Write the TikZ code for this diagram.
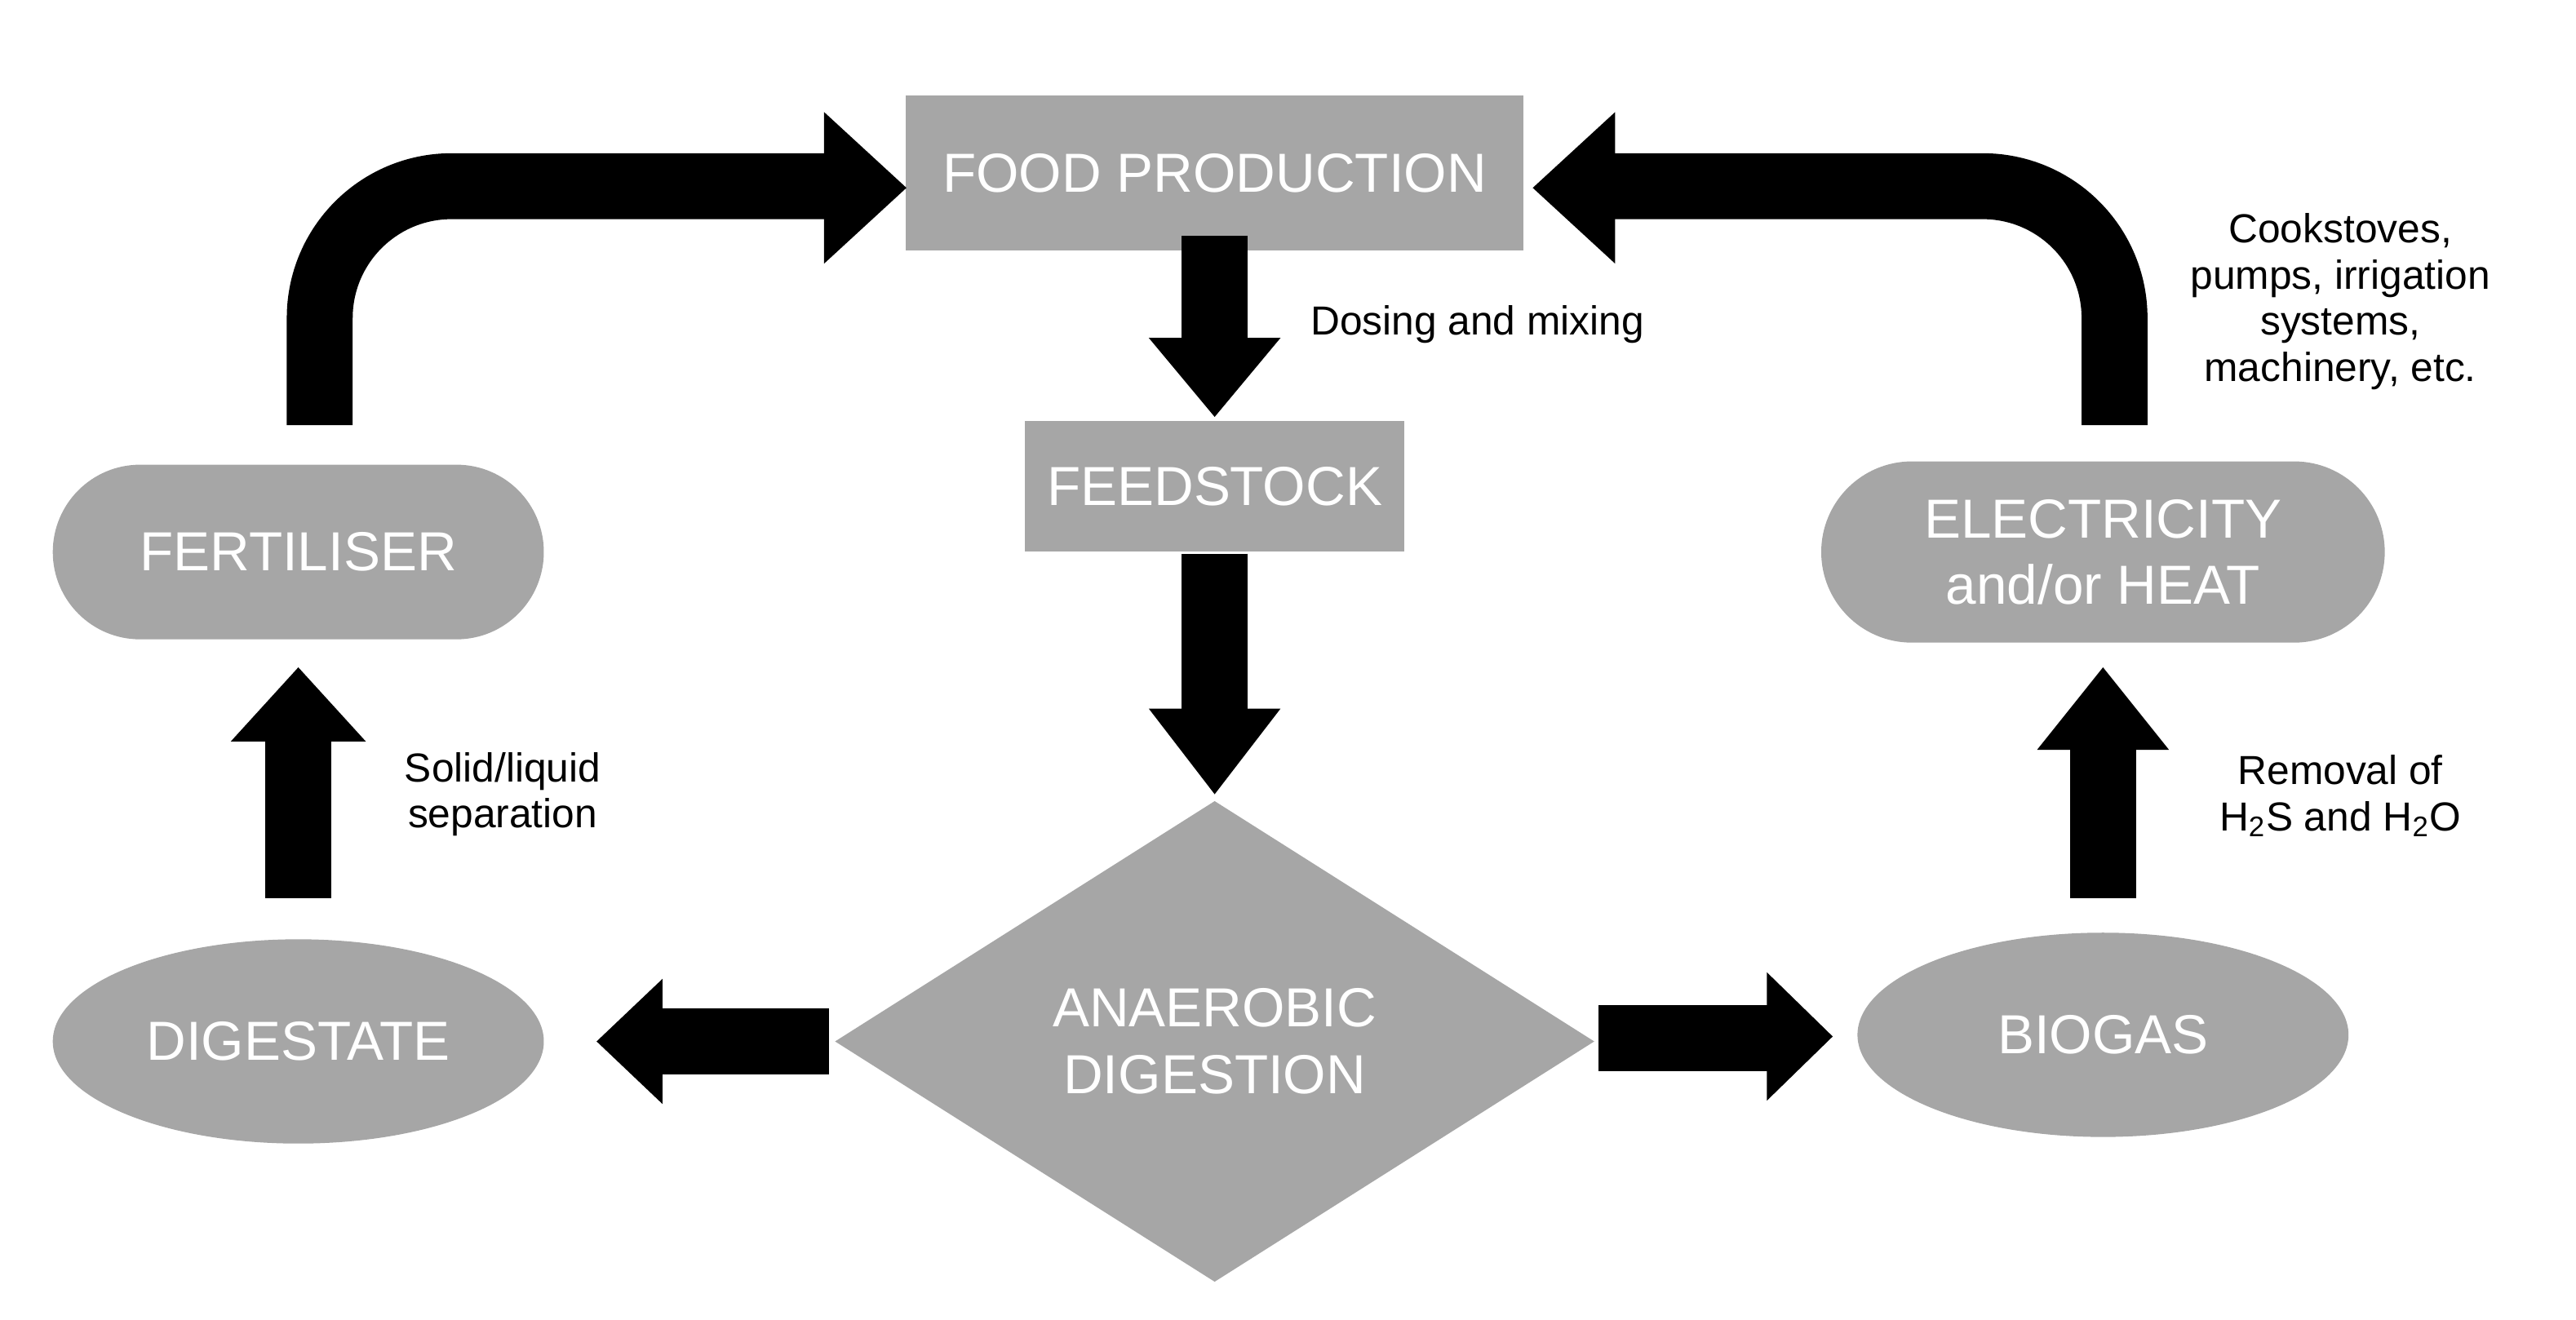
\documentclass[tikz,border=0pt]{standalone}
\usepackage{fontspec}
\setmainfont{Liberation Sans}
\usetikzlibrary{shapes.geometric}
\definecolor{box}{HTML}{A6A6A6}
\begin{document}
\begin{tikzpicture}[x=0.02cm,y=-0.02cm,
  big/.style={fill=box,text=white,font=\fontsize{19}{23}\selectfont,inner sep=0pt,align=center},
  lab/.style={font=\fontsize{14}{16}\selectfont,align=center},
  shaft/.style={line width=0.8cm,black},
  head/.style={fill=black}]
\useasboundingbox (0,0) rectangle (1563,800.6);
\node[big,minimum width=7.5cm,minimum height=1.88cm] (food) at (737,105) {FOOD PRODUCTION};
\node[big,minimum width=4.6cm,minimum height=1.58cm] (feed) at (737,295) {FEEDSTOCK};
\node[big,rounded corners=1.06cm,minimum width=5.96cm,minimum height=2.12cm] (fert) at (181,335) {FERTILISER};
\node[big,rounded corners=1.1cm,minimum width=6.84cm,minimum height=2.2cm] (elec) at (1276,335) {ELECTRICITY\\and/or HEAT};
\node[big,ellipse,minimum width=5.96cm,minimum height=2.48cm] (dig) at (181,632) {DIGESTATE};
\node[big,ellipse,minimum width=5.96cm,minimum height=2.48cm] (bio) at (1276,628) {BIOGAS};
\node[big,diamond,minimum width=9.22cm,minimum height=5.84cm] (ad) at (737,632) {ANAEROBIC\\DIGESTION};
% food -> feedstock
\draw[shaft] (737,143) -- (737,206);
\fill[head] (697,205) -- (777,205) -- (737,253) -- cycle;
% feedstock -> AD
\draw[shaft] (737,336) -- (737,431);
\fill[head] (697,430) -- (777,430) -- (737,482) -- cycle;
% AD -> digestate
\draw[shaft] (503,632) -- (401,632);
\fill[head] (402,594) -- (402,670) -- (362,632) -- cycle;
% AD -> biogas
\draw[shaft] (970,630) -- (1073,630);
\fill[head] (1072,590) -- (1072,668) -- (1112,629) -- cycle;
% digestate -> fertiliser
\draw[shaft] (181,545) -- (181,449);
\fill[head] (140,450) -- (222,450) -- (181,405) -- cycle;
% biogas -> electricity
\draw[shaft] (1276,545) -- (1276,454);
\fill[head] (1236,455) -- (1316,455) -- (1276,405) -- cycle;
% fertiliser -> food
\draw[shaft,rounded corners=1.6cm] (194,258) -- (194,113) -- (501,113);
\fill[head] (500,68) -- (500,160) -- (550,114) -- cycle;
% electricity -> food
\draw[shaft,rounded corners=1.6cm] (1283,258) -- (1283,113) -- (979,113);
\fill[head] (980,68) -- (980,160) -- (930,114) -- cycle;
% labels
\node[lab,anchor=west] (l1) at (789,197) {Dosing and mixing};
\node[lab] (l2) at (1420,183) {Cookstoves,\\pumps, irrigation\\systems,\\machinery, etc.};
\node[lab] (l3) at (305,482) {Solid/liquid\\separation};
\node[lab] (l4) at (1420,483) {Removal of\\H\textsubscript{2}S and H\textsubscript{2}O};
\end{tikzpicture}
\end{document}
